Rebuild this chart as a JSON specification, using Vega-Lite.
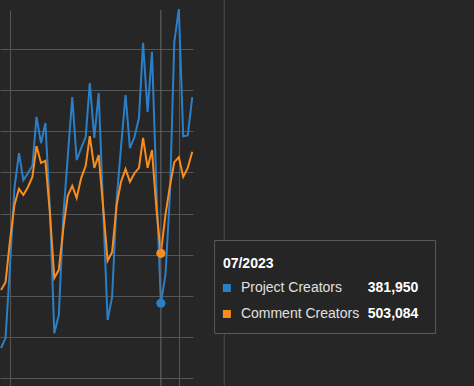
{
  "$schema": "https://vega.github.io/schema/vega-lite/v6.json",
  "width": 193,
  "height": 376,
  "autosize": {"type": "none"},
  "padding": {"left": 0, "top": 10, "right": 281, "bottom": 0},
  "background": "#262626",
  "config": {"view": {"stroke": null}, "font": "Liberation Sans"},
  "data": {
    "format": {"parse": {"month": "date"}},
    "values": [
      {"month": "2020-07-01", "series": "Project Creators", "value": 273000},
      {"month": "2020-08-01", "series": "Project Creators", "value": 297000},
      {"month": "2020-09-01", "series": "Project Creators", "value": 475000},
      {"month": "2020-10-01", "series": "Project Creators", "value": 662000},
      {"month": "2020-11-01", "series": "Project Creators", "value": 747000},
      {"month": "2020-12-01", "series": "Project Creators", "value": 681000},
      {"month": "2021-01-01", "series": "Project Creators", "value": 698000},
      {"month": "2021-02-01", "series": "Project Creators", "value": 716000},
      {"month": "2021-03-01", "series": "Project Creators", "value": 835000},
      {"month": "2021-04-01", "series": "Project Creators", "value": 771000},
      {"month": "2021-05-01", "series": "Project Creators", "value": 820000},
      {"month": "2021-06-01", "series": "Project Creators", "value": 609000},
      {"month": "2021-07-01", "series": "Project Creators", "value": 309000},
      {"month": "2021-08-01", "series": "Project Creators", "value": 353000},
      {"month": "2021-09-01", "series": "Project Creators", "value": 596000},
      {"month": "2021-10-01", "series": "Project Creators", "value": 737000},
      {"month": "2021-11-01", "series": "Project Creators", "value": 883000},
      {"month": "2021-12-01", "series": "Project Creators", "value": 730000},
      {"month": "2022-01-01", "series": "Project Creators", "value": 759000},
      {"month": "2022-02-01", "series": "Project Creators", "value": 786000},
      {"month": "2022-03-01", "series": "Project Creators", "value": 917000},
      {"month": "2022-04-01", "series": "Project Creators", "value": 784000},
      {"month": "2022-05-01", "series": "Project Creators", "value": 893000},
      {"month": "2022-06-01", "series": "Project Creators", "value": 609000},
      {"month": "2022-07-01", "series": "Project Creators", "value": 341000},
      {"month": "2022-08-01", "series": "Project Creators", "value": 397000},
      {"month": "2022-09-01", "series": "Project Creators", "value": 633000},
      {"month": "2022-10-01", "series": "Project Creators", "value": 762000},
      {"month": "2022-11-01", "series": "Project Creators", "value": 888000},
      {"month": "2022-12-01", "series": "Project Creators", "value": 759000},
      {"month": "2023-01-01", "series": "Project Creators", "value": 786000},
      {"month": "2023-02-01", "series": "Project Creators", "value": 832000},
      {"month": "2023-03-01", "series": "Project Creators", "value": 1015000},
      {"month": "2023-04-01", "series": "Project Creators", "value": 847000},
      {"month": "2023-05-01", "series": "Project Creators", "value": 993000},
      {"month": "2023-06-01", "series": "Project Creators", "value": 657000},
      {"month": "2023-07-01", "series": "Project Creators", "value": 381950},
      {"month": "2023-08-01", "series": "Project Creators", "value": 450000},
      {"month": "2023-09-01", "series": "Project Creators", "value": 645000},
      {"month": "2023-10-01", "series": "Project Creators", "value": 1017000},
      {"month": "2023-11-01", "series": "Project Creators", "value": 1097000},
      {"month": "2023-12-01", "series": "Project Creators", "value": 788000},
      {"month": "2024-01-01", "series": "Project Creators", "value": 790000},
      {"month": "2024-02-01", "series": "Project Creators", "value": 883000},
      {"month": "2020-07-01", "series": "Comment Creators", "value": 414000},
      {"month": "2020-08-01", "series": "Comment Creators", "value": 433000},
      {"month": "2020-09-01", "series": "Comment Creators", "value": 536000},
      {"month": "2020-10-01", "series": "Comment Creators", "value": 621000},
      {"month": "2020-11-01", "series": "Comment Creators", "value": 660000},
      {"month": "2020-12-01", "series": "Comment Creators", "value": 645000},
      {"month": "2021-01-01", "series": "Comment Creators", "value": 664000},
      {"month": "2021-02-01", "series": "Comment Creators", "value": 689000},
      {"month": "2021-03-01", "series": "Comment Creators", "value": 764000},
      {"month": "2021-04-01", "series": "Comment Creators", "value": 723000},
      {"month": "2021-05-01", "series": "Comment Creators", "value": 728000},
      {"month": "2021-06-01", "series": "Comment Creators", "value": 601000},
      {"month": "2021-07-01", "series": "Comment Creators", "value": 443000},
      {"month": "2021-08-01", "series": "Comment Creators", "value": 463000},
      {"month": "2021-09-01", "series": "Comment Creators", "value": 565000},
      {"month": "2021-10-01", "series": "Comment Creators", "value": 643000},
      {"month": "2021-11-01", "series": "Comment Creators", "value": 667000},
      {"month": "2021-12-01", "series": "Comment Creators", "value": 638000},
      {"month": "2022-01-01", "series": "Comment Creators", "value": 686000},
      {"month": "2022-02-01", "series": "Comment Creators", "value": 716000},
      {"month": "2022-03-01", "series": "Comment Creators", "value": 788000},
      {"month": "2022-04-01", "series": "Comment Creators", "value": 711000},
      {"month": "2022-05-01", "series": "Comment Creators", "value": 742000},
      {"month": "2022-06-01", "series": "Comment Creators", "value": 613000},
      {"month": "2022-07-01", "series": "Comment Creators", "value": 485000},
      {"month": "2022-08-01", "series": "Comment Creators", "value": 506000},
      {"month": "2022-09-01", "series": "Comment Creators", "value": 621000},
      {"month": "2022-10-01", "series": "Comment Creators", "value": 677000},
      {"month": "2022-11-01", "series": "Comment Creators", "value": 708000},
      {"month": "2022-12-01", "series": "Comment Creators", "value": 677000},
      {"month": "2023-01-01", "series": "Comment Creators", "value": 698000},
      {"month": "2023-02-01", "series": "Comment Creators", "value": 711000},
      {"month": "2023-03-01", "series": "Comment Creators", "value": 784000},
      {"month": "2023-04-01", "series": "Comment Creators", "value": 711000},
      {"month": "2023-05-01", "series": "Comment Creators", "value": 754000},
      {"month": "2023-06-01", "series": "Comment Creators", "value": 609000},
      {"month": "2023-07-01", "series": "Comment Creators", "value": 503084},
      {"month": "2023-08-01", "series": "Comment Creators", "value": 596000},
      {"month": "2023-09-01", "series": "Comment Creators", "value": 667000},
      {"month": "2023-10-01", "series": "Comment Creators", "value": 725000},
      {"month": "2023-11-01", "series": "Comment Creators", "value": 737000},
      {"month": "2023-12-01", "series": "Comment Creators", "value": 689000},
      {"month": "2024-01-01", "series": "Comment Creators", "value": 711000},
      {"month": "2024-02-01", "series": "Comment Creators", "value": 750000}
    ]
  },
  "layer": [
    {
      "mark": {"type": "line", "strokeWidth": 2},
      "encoding": {
        "x": {
          "field": "month", "type": "temporal",
          "scale": {"type": "utc", "nice": false, "domain": [{"year": 2020, "month": 6, "date": 24, "utc": true}, {"year": 2024, "month": 2, "date": 6, "utc": true}]},
          "axis": {"title": null, "labels": false, "ticks": false, "domain": false, "grid": true, "gridColor": "#555555", "gridWidth": 1,
                   "values": [{"year": 2020, "month": 9, "date": 1, "utc": true}, {"year": 2023, "month": 11, "date": 1, "utc": true}]}
        },
        "y": {
          "field": "value", "type": "quantitative",
          "scale": {"domain": [180550, 1094830], "nice": false, "zero": false},
          "axis": {"title": null, "labels": false, "ticks": false, "domain": false, "grid": true, "gridColor": "#555555", "gridWidth": 1,
                   "values": [200000, 300000, 400000, 500000, 600000, 700000, 800000, 900000, 1000000]}
        },
        "color": {"field": "series", "type": "nominal", "legend": null,
                  "scale": {"domain": ["Project Creators", "Comment Creators"], "range": ["#2b7fc7", "#fa8c1e"]}}
      }
    },
    {
      "data": {"values": [{}]},
      "mark": {"type": "rule", "color": "#4a4a4a", "strokeWidth": 1},
      "encoding": {
        "x": {"datum": {"year": 2024, "month": 9, "date": 7, "utc": true}, "type": "temporal"},
        "y": {"datum": 1125000, "type": "quantitative"},
        "y2": {"datum": 175000}
      }
    },
    {
      "transform": [{"filter": "utcyear(datum.month) === 2023 && utcmonth(datum.month) === 6 && datum.series === 'Project Creators'"}],
      "mark": {"type": "rule", "color": "#6a6a6a", "strokeWidth": 1},
      "encoding": {"x": {"field": "month", "type": "temporal"}}
    },
    {
      "transform": [{"filter": "utcyear(datum.month) === 2023 && utcmonth(datum.month) === 6"}],
      "mark": {"type": "point", "filled": true, "size": 85, "opacity": 1},
      "encoding": {
        "x": {"field": "month", "type": "temporal"},
        "y": {"field": "value", "type": "quantitative"},
        "color": {"field": "series", "type": "nominal"}
      }
    },
    {
      "transform": [{"filter": "utcyear(datum.month) === 2023 && utcmonth(datum.month) === 6 && datum.series === 'Project Creators'"}],
      "mark": {"type": "rect", "fill": "#252525", "stroke": "#5a5a5a", "strokeWidth": 1,
               "xOffset": 53.74, "x2Offset": 274.74, "yOffset": -62.67, "y2Offset": 30.33},
      "encoding": {
        "x": {"field": "month", "type": "temporal"},
        "x2": {"field": "month"},
        "y": {"field": "value", "type": "quantitative"},
        "y2": {"field": "value"}
      }
    },
    {
      "transform": [{"filter": "utcyear(datum.month) === 2023 && utcmonth(datum.month) === 6 && datum.series === 'Project Creators'"}],
      "mark": {"type": "text", "align": "left", "baseline": "alphabetic", "dx": 62, "dy": -35.2, "fontSize": 14, "fontWeight": "bold", "color": "#ffffff"},
      "encoding": {
        "x": {"field": "month", "type": "temporal"},
        "y": {"field": "value", "type": "quantitative"},
        "text": {"field": "month", "timeUnit": "utcyearmonth", "type": "temporal", "format": "%m/%Y"}
      }
    },
    {
      "transform": [{"filter": "utcyear(datum.month) === 2023 && utcmonth(datum.month) === 6 && datum.series === 'Project Creators'"}],
      "mark": {"type": "point", "shape": "square", "filled": true, "size": 64, "opacity": 1, "xOffset": 66, "yOffset": -15.2},
      "encoding": {
        "x": {"field": "month", "type": "temporal"},
        "y": {"field": "value", "type": "quantitative"},
        "color": {"field": "series", "type": "nominal"}
      }
    },
    {
      "transform": [{"filter": "utcyear(datum.month) === 2023 && utcmonth(datum.month) === 6 && datum.series === 'Project Creators'"}],
      "mark": {"type": "text", "align": "left", "baseline": "alphabetic", "dx": 80, "dy": -11.4, "fontSize": 14, "color": "#e0e0e0"},
      "encoding": {
        "x": {"field": "month", "type": "temporal"},
        "y": {"field": "value", "type": "quantitative"},
        "text": {"field": "series", "type": "nominal"}
      }
    },
    {
      "transform": [{"filter": "utcyear(datum.month) === 2023 && utcmonth(datum.month) === 6 && datum.series === 'Project Creators'"}],
      "mark": {"type": "text", "align": "right", "baseline": "alphabetic", "dx": 257.5, "dy": -11.4, "fontSize": 14, "fontWeight": "bold", "color": "#ffffff"},
      "encoding": {
        "x": {"field": "month", "type": "temporal"},
        "y": {"field": "value", "type": "quantitative"},
        "text": {"field": "value", "type": "quantitative", "format": ","}
      }
    },
    {
      "transform": [{"filter": "utcyear(datum.month) === 2023 && utcmonth(datum.month) === 6 && datum.series === 'Comment Creators'"}],
      "mark": {"type": "point", "shape": "square", "filled": true, "size": 64, "opacity": 1, "xOffset": 66, "yOffset": 60.6},
      "encoding": {
        "x": {"field": "month", "type": "temporal"},
        "y": {"field": "value", "type": "quantitative"},
        "color": {"field": "series", "type": "nominal"}
      }
    },
    {
      "transform": [{"filter": "utcyear(datum.month) === 2023 && utcmonth(datum.month) === 6 && datum.series === 'Comment Creators'"}],
      "mark": {"type": "text", "align": "left", "baseline": "alphabetic", "dx": 80, "dy": 64.9, "fontSize": 14, "color": "#e0e0e0"},
      "encoding": {
        "x": {"field": "month", "type": "temporal"},
        "y": {"field": "value", "type": "quantitative"},
        "text": {"field": "series", "type": "nominal"}
      }
    },
    {
      "transform": [{"filter": "utcyear(datum.month) === 2023 && utcmonth(datum.month) === 6 && datum.series === 'Comment Creators'"}],
      "mark": {"type": "text", "align": "right", "baseline": "alphabetic", "dx": 257.5, "dy": 64.9, "fontSize": 14, "fontWeight": "bold", "color": "#ffffff"},
      "encoding": {
        "x": {"field": "month", "type": "temporal"},
        "y": {"field": "value", "type": "quantitative"},
        "text": {"field": "value", "type": "quantitative", "format": ","}
      }
    }
  ]
}
